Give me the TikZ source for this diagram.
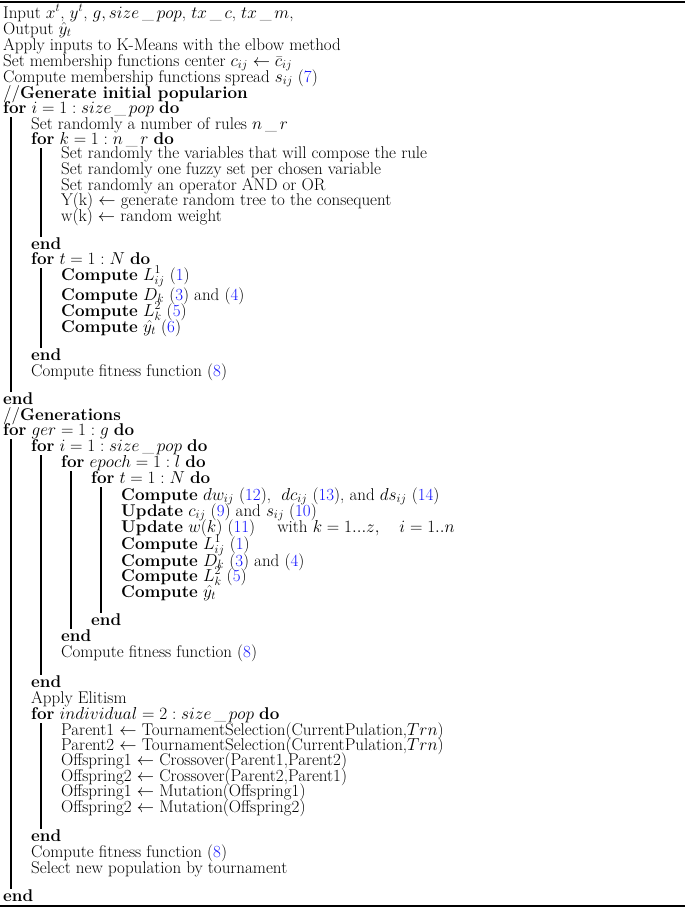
\documentclass[tikz,border=0pt]{standalone}
\usepackage{amsmath}
\definecolor{refblue}{RGB}{20,20,255}
\newcommand{\eqr}[1]{\textcolor{refblue}{#1}}
\newcommand{\kw}[1]{\textbf{#1}}
\newcommand{\us}{\,\_\,}
\begin{document}
\begin{tikzpicture}[x=1pt,y=-1pt,
  ln/.style={anchor=base west,inner sep=0pt,font=\fontsize{17}{15}\selectfont},
  bar/.style={line width=1.3pt}]
\useasboundingbox (0,0) rectangle (685,911);
\draw[line width=1.6pt] (0,2) -- (685,2);
\draw[line width=1.2pt] (0,906) -- (685,906);
\def\A{3}\def\B{31}\def\C{61}\def\D{91}\def\E{121}
\node[ln] (n1) at (\A,18) {Input $x^t$, $y^t$, $g, size\us pop$, $tx\us c$, $tx\us m$,};
\node[ln] (n2) at (\A,34) {Output $\hat{y}_t$};
\node[ln] (n3) at (\A,50) {Apply inputs to K-Means with the elbow method};
\node[ln] (n4) at (\A,66) {Set membership functions center $c_{ij} \leftarrow \bar{c}_{ij}$};
\node[ln] (n5) at (\A,82) {Compute membership functions spread $s_{ij}$ (\eqr{7})};
\node[ln] (n6) at (\A,98) {$//$\kw{Generate initial popularion}};
\node[ln] (n7) at (\A,113) {\kw{for} $i=1:size\us pop$ \kw{do}};
\node[ln] (n8) at (\B,129) {Set randomly a number of rules $n\us r$};
\node[ln] (n9) at (\B,144) {\kw{for} $k=1:n\us r$ \kw{do}};
\node[ln] (n10) at (\C,158) {Set randomly the variables that will compose the rule};
\node[ln] (n11) at (\C,174) {Set randomly one fuzzy set per chosen variable};
\node[ln] (n12) at (\C,190) {Set randomly an operator AND or OR};
\node[ln] (n13) at (\C,205) {Y(k) $\leftarrow$ generate random tree to the consequent};
\node[ln] (n14) at (\C,221) {w(k) $\leftarrow$ random weight};
\node[ln] (n15) at (\B,249) {\kw{end}};
\node[ln] (n16) at (\B,264) {\kw{for} $t=1:N$ \kw{do}};
\node[ln] (n17) at (\C,280) {\kw{Compute} $L^1_{ij}$ (\eqr{1})};
\node[ln] (n18) at (\C,300) {\kw{Compute} $D_k$ (\eqr{3}) and (\eqr{4})};
\node[ln] (n19) at (\C,316) {\kw{Compute} $L^2_k$ (\eqr{5})};
\node[ln] (n20) at (\C,332) {\kw{Compute} $\hat{y_t}$ (\eqr{6})};
\node[ln] (n21) at (\B,360) {\kw{end}};
\node[ln] (n22) at (\B,376) {Compute fitness function (\eqr{8})};
\node[ln] (n23) at (\A,404) {\kw{end}};
\node[ln] (n24) at (\A,420) {$//$\kw{Generations}};
\node[ln] (n25) at (\A,435) {\kw{for} $ger=1:g$ \kw{do}};
\node[ln] (n26) at (\B,451) {\kw{for} $i=1:size\us pop$ \kw{do}};
\node[ln] (n27) at (\C,467) {\kw{for} $epoch=1:l$ \kw{do}};
\node[ln] (n28) at (\D,483) {\kw{for} $t=1:N$ \kw{do}};
\node[ln] (n29) at (\E,500) {\kw{Compute} $dw_{ij}$ (\eqr{12}),\ \ $dc_{ij}$ (\eqr{13}), and $ds_{ij}$ (\eqr{14})};
\node[ln] (n30) at (\E,516) {\kw{Update} $c_{ij}$ (\eqr{9}) and $s_{ij}$ (\eqr{10})};
\node[ln] (n31) at (\E,532) {\kw{Update} $w(k)$ (\eqr{11})\quad\ with $k=1...z,\quad i=1..n$};
\node[ln] (n32) at (\E,549) {\kw{Compute} $L^1_{ij}$ (\eqr{1})};
\node[ln] (n33) at (\E,566) {\kw{Compute} $D_k$ (\eqr{3}) and (\eqr{4})};
\node[ln] (n34) at (\E,581) {\kw{Compute} $L^2_k$ (\eqr{5})};
\node[ln] (n35) at (\E,597) {\kw{Compute} $\hat{y_t}$};
\node[ln] (n36) at (\D,625) {\kw{end}};
\node[ln] (n37) at (\C,641) {\kw{end}};
\node[ln] (n38) at (\C,657) {Compute fitness function (\eqr{8})};
\node[ln] (n39) at (\B,687) {\kw{end}};
\node[ln] (n40) at (\B,703) {Apply Elitism};
\node[ln] (n41) at (\B,719) {\kw{for} $individual=2:size\us pop$ \kw{do}};
\node[ln] (n42) at (\C,735) {Parent1 $\leftarrow$ TournamentSelection(CurrentPulation,$Trn$)};
\node[ln] (n43) at (\C,750) {Parent2 $\leftarrow$ TournamentSelection(CurrentPulation,$Trn$)};
\node[ln] (n44) at (\C,765) {Offspring1 $\leftarrow$ Crossover(Parent1,Parent2)};
\node[ln] (n45) at (\C,781) {Offspring2 $\leftarrow$ Crossover(Parent2,Parent1)};
\node[ln] (n46) at (\C,796) {Offspring1 $\leftarrow$ Mutation(Offspring1)};
\node[ln] (n47) at (\C,812) {Offspring2 $\leftarrow$ Mutation(Offspring2)};
\node[ln] (n48) at (\B,841) {\kw{end}};
\node[ln] (n49) at (\B,857) {Compute fitness function (\eqr{8})};
\node[ln] (n50) at (\B,873) {Select new population by tournament};
\node[ln] (n51) at (\A,901) {\kw{end}};
% block bars
\draw[bar] (11,117) -- (11,392);
\draw[bar] (41,148) -- (41,237);
\draw[bar] (41,268) -- (41,348);
\draw[bar] (11,439) -- (11,889);
\draw[bar] (41,455) -- (41,675);
\draw[bar] (71,471) -- (71,629);
\draw[bar] (101,487) -- (101,613);
\draw[bar] (41,723) -- (41,829);
\end{tikzpicture}
\end{document}
